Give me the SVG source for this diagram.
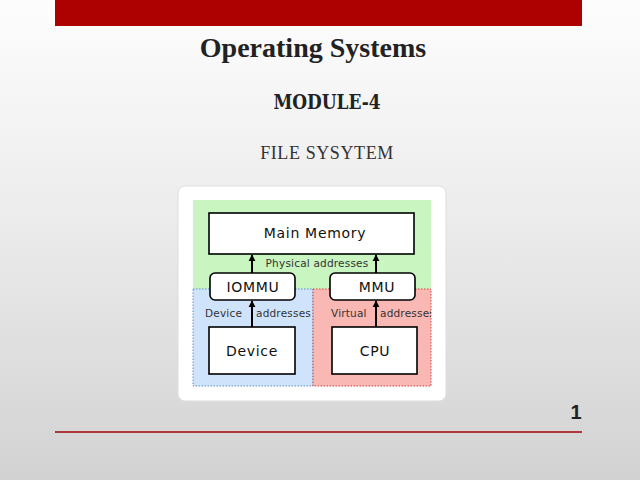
<svg xmlns="http://www.w3.org/2000/svg" width="640" height="480" viewBox="0 0 640 480">
<defs>
<linearGradient id="bg" x1="0" y1="0" x2="0" y2="1">
<stop offset="0" stop-color="#fdfdfd"/>
<stop offset="0.45" stop-color="#ececec"/>
<stop offset="1" stop-color="#d2d2d2"/>
</linearGradient>
<marker id="ah" viewBox="0 0 10 10" refX="9" refY="5" markerWidth="3.6" markerHeight="3.6" orient="auto">
<path d="M0,0 L10,5 L0,10 z" fill="#000"/>
</marker>
</defs>
<style>
.box{fill:#fff;stroke:#000;stroke-width:1.6}
.lbl{font-family:"DejaVu Sans",sans-serif;font-size:14px;letter-spacing:0.7px;fill:#111;text-anchor:middle}
.sm{font-family:"DejaVu Sans",sans-serif;font-size:10.5px;letter-spacing:0.2px;fill:#333}
.arr{stroke:#000;stroke-width:2;fill:none;marker-end:url(#ah)}
</style>
<rect width="640" height="480" fill="url(#bg)"/>
<rect x="55" y="0" width="527" height="26" fill="#ad0000"/>
<text x="313" y="57" font-family="Liberation Serif,serif" font-weight="bold" font-size="28" fill="#222" text-anchor="middle">Operating Systems</text>
<text transform="translate(327,109) scale(0.85,1)" font-family="DejaVu Serif,serif" font-weight="bold" font-size="20" fill="#222" text-anchor="middle">MODULE-4</text>
<text x="327" y="159" font-family="Liberation Serif,serif" font-size="18" letter-spacing="0.6" fill="#333" text-anchor="middle">FILE SYSYTEM</text>
<rect x="178" y="186" width="268" height="215" rx="7" fill="#fff" stroke="#ddd"/>
<rect x="193" y="200" width="238" height="89" fill="#c8f5c0"/>
<rect x="193" y="289" width="120" height="97" fill="#cfe4fb" stroke="#5a8fd0" stroke-dasharray="1.5,1.5"/>
<rect x="313" y="289" width="118" height="97" fill="#f9b8b4" stroke="#d04040" stroke-dasharray="1.5,1.5"/>
<g id="connectors">
<line class="arr" x1="252" y1="273" x2="252" y2="255"/>
<line class="arr" x1="376" y1="273" x2="376" y2="255"/>
<line class="arr" x1="252" y1="327" x2="252" y2="301"/>
<line class="arr" x1="376" y1="327" x2="376" y2="301"/>
</g>
<g id="main"><rect class="box" x="209" y="213" width="205" height="41"/><text class="lbl" x="315" y="238">Main Memory</text></g>
<g id="iommu"><rect class="box" x="210" y="273" width="85" height="27" rx="5"/><text class="lbl" x="253" y="292">IOMMU</text></g>
<g id="mmu"><rect class="box" x="330" y="273" width="85" height="27" rx="5"/><text class="lbl" x="377" y="292">MMU</text></g>
<g id="device"><rect class="box" x="209" y="327" width="86" height="47"/><text class="lbl" x="252" y="356">Device</text></g>
<g id="cpu"><rect class="box" x="332" y="327" width="85" height="47"/><text class="lbl" x="375" y="356">CPU</text></g>
<text class="sm" x="317" y="267" text-anchor="middle">Physical addresses</text>
<text class="sm" x="205" y="317">Device</text>
<text class="sm" x="256" y="317">addresses</text>
<text class="sm" x="331" y="317">Virtual</text>
<svg x="0" y="0" width="431" height="480" overflow="hidden"><text class="sm" x="380" y="317">addresses</text></svg>
<text x="576" y="419" font-family="Liberation Sans,sans-serif" font-weight="bold" font-size="20" fill="#222" text-anchor="middle">1</text>
<line x1="55" y1="432" x2="582" y2="432" stroke="#a00000" stroke-width="1.5"/>
</svg>
